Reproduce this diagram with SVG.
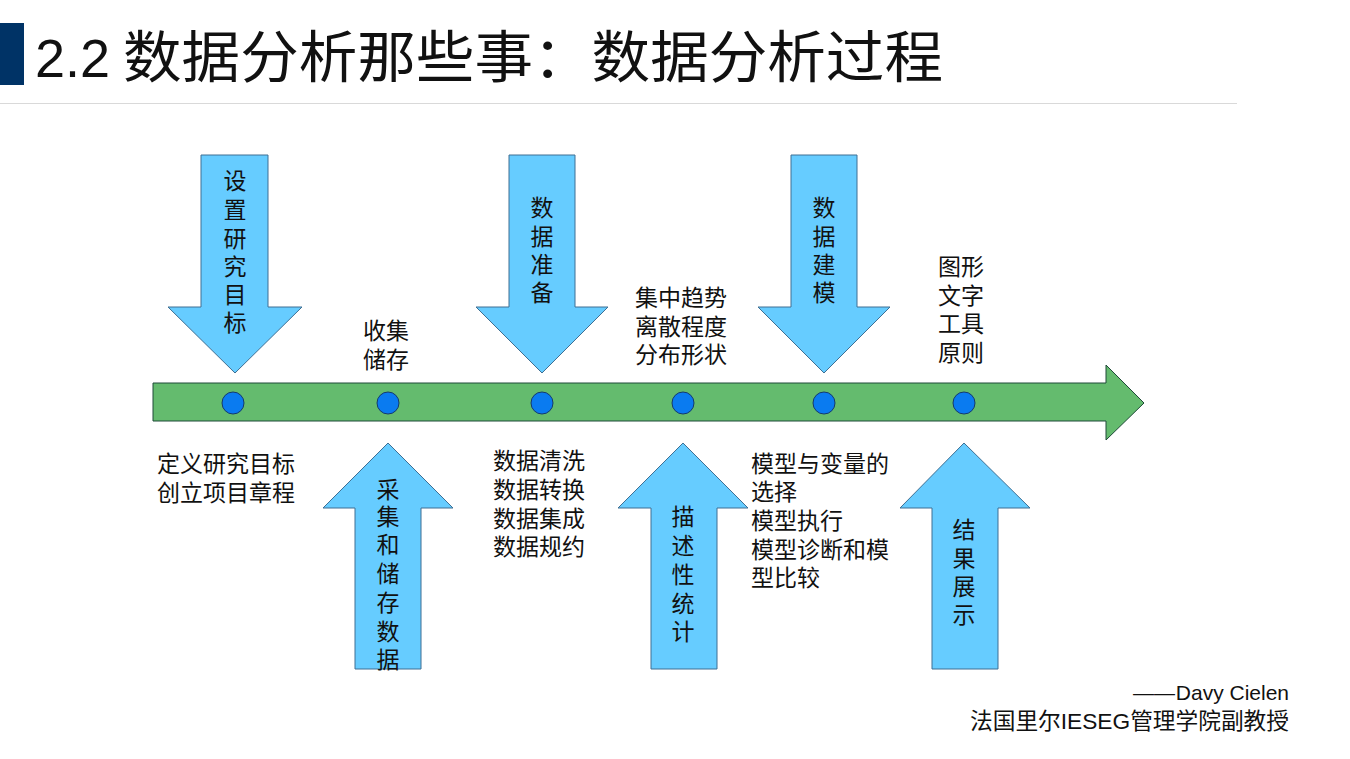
<svg xmlns="http://www.w3.org/2000/svg" width="1350" height="759" viewBox="0 0 1350 759">
<style>
text{font-family:"Liberation Sans","Noto Sans CJK SC",sans-serif;fill:#111;}
.t{font-size:23px;}
.v{font-size:23px;text-anchor:middle;}
.arr{fill:#66CCFF;stroke:#3E6F93;stroke-width:1;}
.dot{fill:#0A7BF0;stroke:#163A6B;stroke-width:1;}
.cjk{font-family:"Noto Sans CJK SC",sans-serif;}
</style>
<rect width="1350" height="759" fill="#fff"/>
<g id="title">
<rect x="0" y="23" width="24" height="62" fill="#003366"/>
<text x="35" y="77" style="font-size:54px" fill="#000">2.2</text>
<text x="123" y="77" style="font-size:56px" fill="#000" textLength="820" lengthAdjust="spacingAndGlyphs">数据分析那些事：数据分析过程</text>
<line x1="0" y1="103.5" x2="1237" y2="103.5" stroke="#D9D9D9" stroke-width="1"/>
</g>
<g id="connectors">
<g id="timeline">
<polygon points="153,383 1106,383 1106,365 1144,403 1106,440 1106,421 153,421" fill="#64BB6E" stroke="#1E4A38" stroke-width="1"/>
</g>
</g>
<g id="n-set-goal">
<polygon class="arr" points="201,155 268,155 268,307 302,307 235,373 168,307 201,307"/>
<text class="v" x="235"><tspan x="235" y="189">设</tspan><tspan x="235" y="218">置</tspan><tspan x="235" y="247">研</tspan><tspan x="235" y="275">究</tspan><tspan x="235" y="303">目</tspan><tspan x="235" y="331">标</tspan></text>
</g>
<g id="n-prep">
<polygon class="arr" points="509,155 575,155 575,307 608,307 542,373 476,307 509,307"/>
<text class="v"><tspan x="542" y="216">数</tspan><tspan x="542" y="245">据</tspan><tspan x="542" y="273">准</tspan><tspan x="542" y="301">备</tspan></text>
</g>
<g id="n-model">
<polygon class="arr" points="791,155 857,155 857,307 890,307 824,373 758,307 791,307"/>
<text class="v"><tspan x="824" y="216">数</tspan><tspan x="824" y="245">据</tspan><tspan x="824" y="273">建</tspan><tspan x="824" y="301">模</tspan></text>
</g>
<g id="n-collect">
<polygon class="arr" points="388,443 453,508 421,508 421,669 355,669 355,508 323,508"/>
<text class="v"><tspan x="388" y="498">采</tspan><tspan x="388" y="525">集</tspan><tspan x="388" y="553">和</tspan><tspan x="388" y="582">储</tspan><tspan x="388" y="611">存</tspan><tspan x="388" y="640">数</tspan><tspan x="388" y="668">据</tspan></text>
</g>
<g id="n-desc">
<polygon class="arr" points="683,443 748,508 717,508 717,669 651,669 651,508 618,508"/>
<text class="v"><tspan x="683" y="525">描</tspan><tspan x="683" y="554">述</tspan><tspan x="683" y="583">性</tspan><tspan x="683" y="612">统</tspan><tspan x="683" y="640">计</tspan></text>
</g>
<g id="n-result">
<polygon class="arr" points="964,443 1030,508 998,508 998,669 932,669 932,508 900,508"/>
<text class="v"><tspan x="964" y="538">结</tspan><tspan x="964" y="567">果</tspan><tspan x="964" y="595">展</tspan><tspan x="964" y="623">示</tspan></text>
</g>
<g id="dots">
<circle class="dot" cx="233" cy="403" r="11"/>
<circle class="dot" cx="388" cy="403" r="11"/>
<circle class="dot" cx="542" cy="403" r="11"/>
<circle class="dot" cx="683" cy="403" r="11"/>
<circle class="dot" cx="824" cy="403" r="11"/>
<circle class="dot" cx="964" cy="403" r="11"/>
</g>
<g id="labels-top">
<text class="t"><tspan x="363" y="339">收集</tspan><tspan x="363" y="368">储存</tspan></text>
<text class="t"><tspan x="635" y="306">集中趋势</tspan><tspan x="635" y="335">离散程度</tspan><tspan x="635" y="363">分布形状</tspan></text>
<text class="t"><tspan x="938" y="275">图形</tspan><tspan x="938" y="304">文字</tspan><tspan x="938" y="332">工具</tspan><tspan x="938" y="361">原则</tspan></text>
</g>
<g id="labels-bottom">
<text class="t"><tspan x="157" y="472">定义研究目标</tspan><tspan x="157" y="501">创立项目章程</tspan></text>
<text class="t"><tspan x="493" y="469">数据清洗</tspan><tspan x="493" y="498">数据转换</tspan><tspan x="493" y="527">数据集成</tspan><tspan x="493" y="555">数据规约</tspan></text>
<text class="t"><tspan x="751" y="472">模型与变量的</tspan><tspan x="751" y="500">选择</tspan><tspan x="751" y="529">模型执行</tspan><tspan x="751" y="558">模型诊断和模</tspan><tspan x="751" y="586">型比较</tspan></text>
</g>
<g id="signature">
<text x="1133" y="700" style="font-size:21px" textLength="42" lengthAdjust="spacingAndGlyphs">——</text>
<text x="1289" y="700" style="font-size:21px;text-anchor:end">Davy Cielen</text>
<text x="970" y="729" style="font-size:22.5px" textLength="319" lengthAdjust="spacingAndGlyphs">法国里尔IESEG管理学院副教授</text>
</g>
</svg>
